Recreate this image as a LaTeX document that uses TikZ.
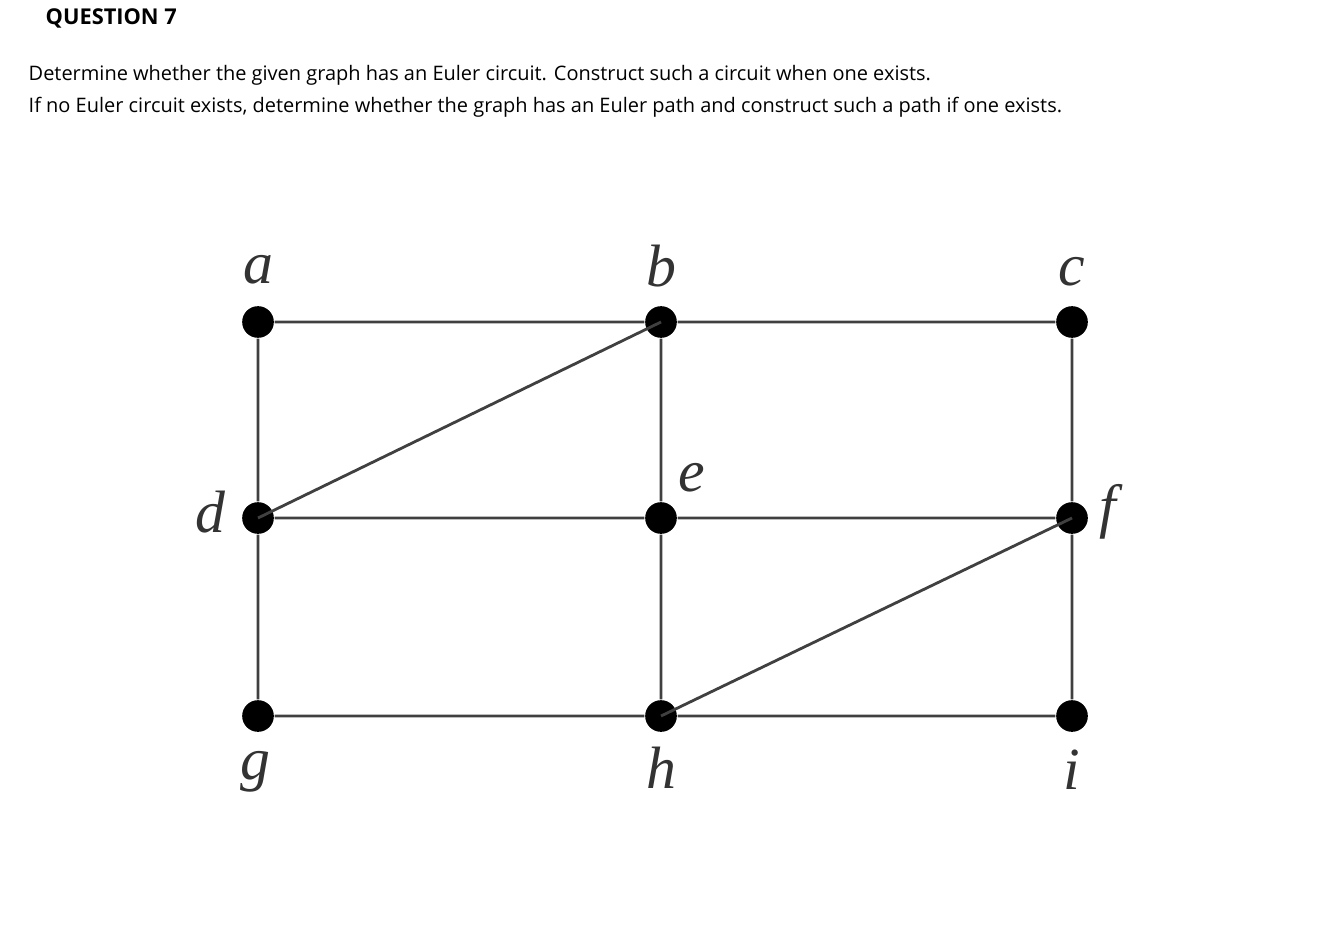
\documentclass[tikz,border=0pt]{standalone}
\usepackage{fontspec}
\setsansfont{Open Sans}
\newfontfamily\lblfont{Liberation Serif}
\begin{document}
\begin{tikzpicture}[x=0.01cm,y=-0.01cm,
  vtx/.style={circle,fill=black,inner sep=0pt,minimum size=9pt},
  edge/.style={draw=black!75,line width=0.8pt},
  lbl/.style={font=\lblfont\fontsize{17}{19}\selectfont\itshape,text=black!80,inner sep=0pt},
  txt/.style={font=\sffamily\fontsize{5.68}{7}\selectfont,anchor=west,inner sep=0pt}]
\useasboundingbox (0,0) rectangle (1328,940);
\node[txt,font=\sffamily\bfseries\fontsize{6.2}{7}\selectfont] (q) at (45,18) {QUESTION 7};
\node[txt] (t1) at (28,75) {Determine whether the given graph has an Euler circuit. Construct such a circuit when one exists.};
\node[txt] (t2) at (28,107) {If no Euler circuit exists, determine whether the graph has an Euler path and construct such a path if one exists.};
\node[vtx] (a) at (258,322) {};
\node[vtx] (b) at (661,322) {};
\node[vtx] (c) at (1072,322) {};
\node[vtx] (d) at (258,518) {};
\node[vtx] (e) at (661,518) {};
\node[vtx] (f) at (1072,518) {};
\node[vtx] (g) at (258,716) {};
\node[vtx] (h) at (661,716) {};
\node[vtx] (i) at (1072,716) {};
\draw[edge] (a)--(b) (b)--(c) (d)--(e) (e)--(f) (g)--(h) (h)--(i)
  (a)--(d) (d)--(g) (b)--(e) (e)--(h) (c)--(f) (f)--(i)
  (d.center)--(b.center) (h.center)--(f.center);
\node[lbl] (la) at (258,270) {a};
\node[lbl] (lb) at (661,266) {b};
\node[lbl] (lc) at (1072,272) {c};
\node[lbl] (ld) at (210,512) {d};
\node[lbl] (le) at (692,478) {e};
\node[lbl] (lf) at (1108,512) {f};
\node[lbl] (lg) at (255,772) {g};
\node[lbl] (lh) at (661,768) {h};
\node[lbl] (li) at (1072,770) {i};
\end{tikzpicture}
\end{document}
